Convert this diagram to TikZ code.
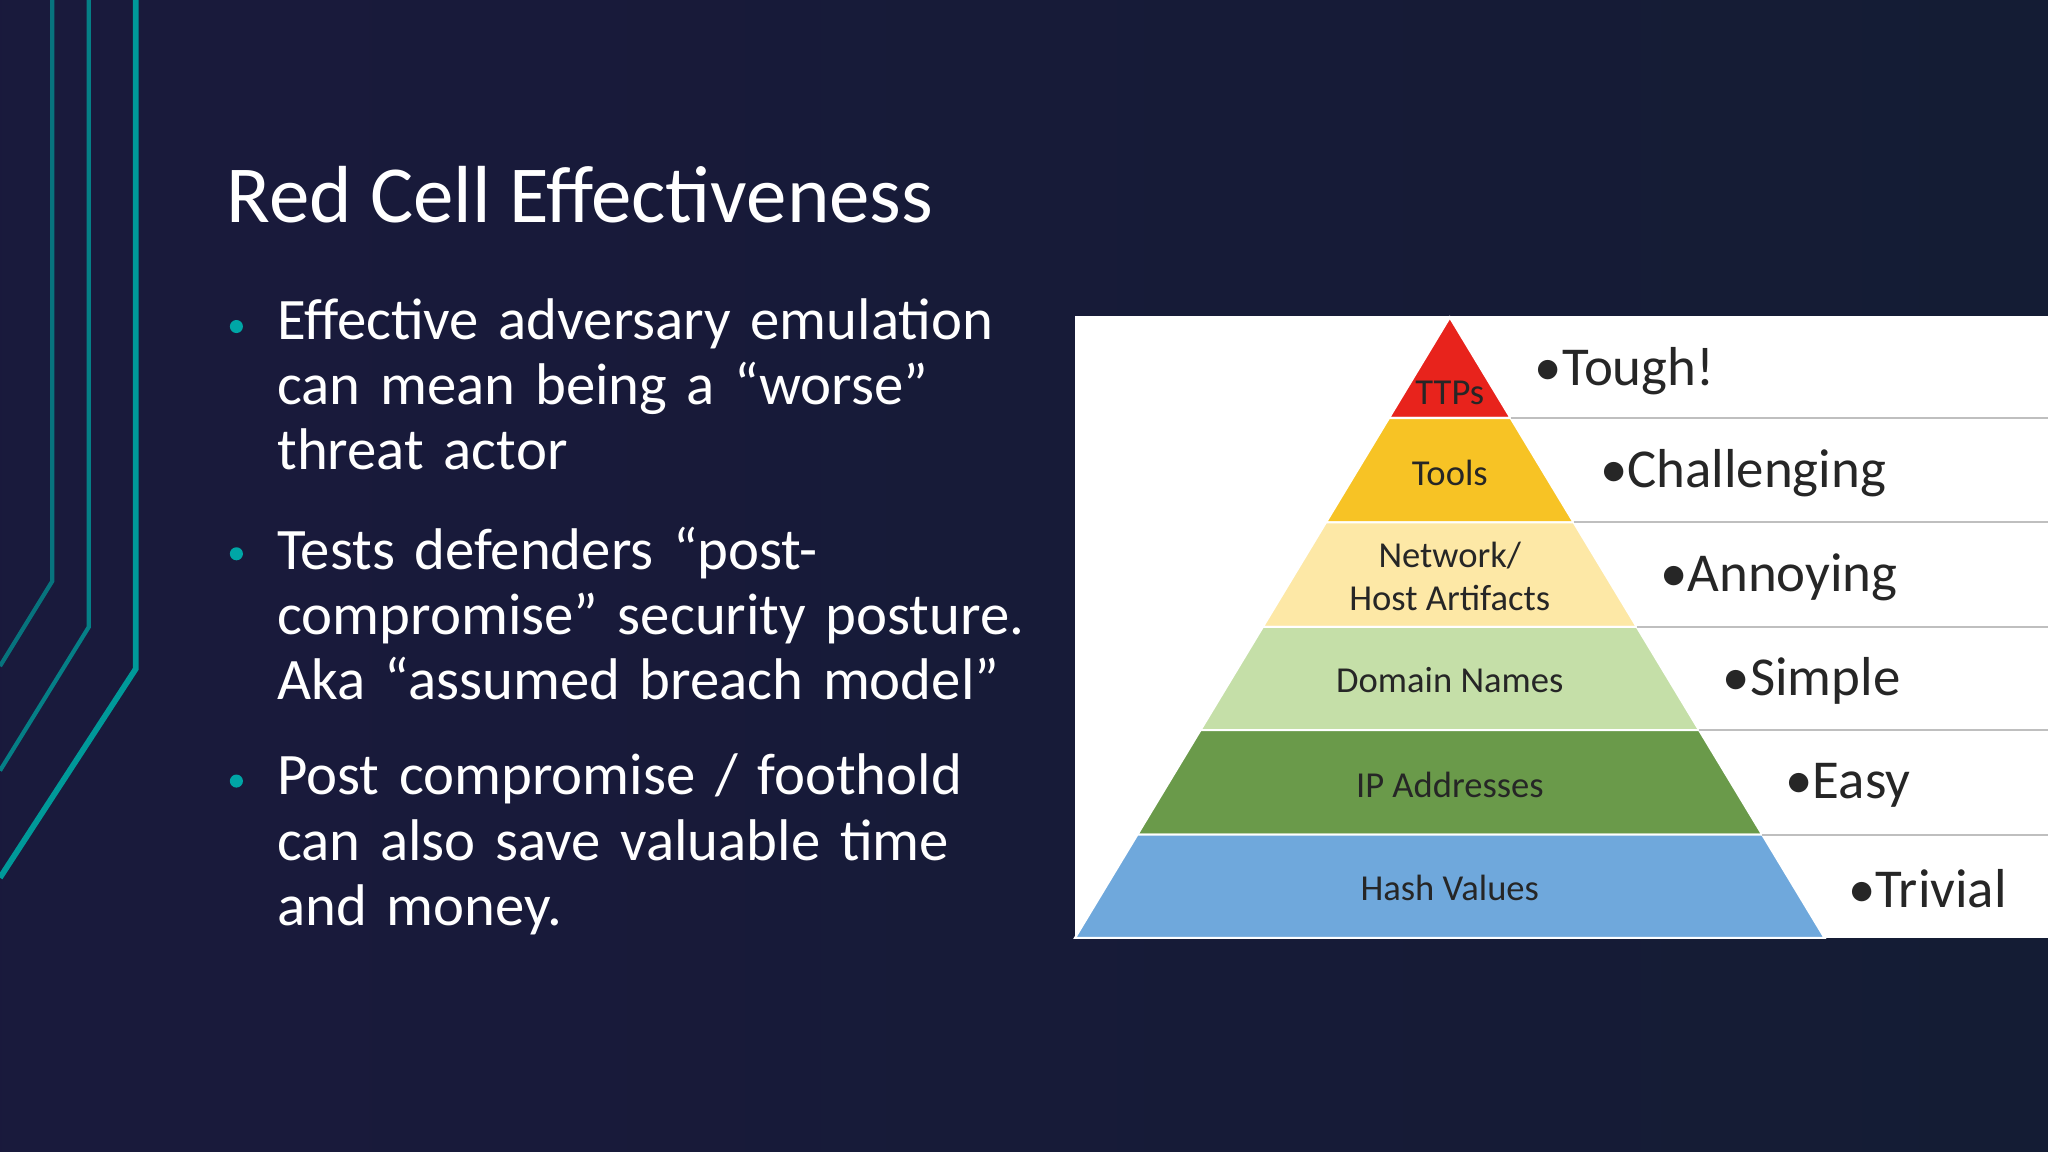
\documentclass[tikz,border=0pt]{standalone}
\usepackage{fontspec}
\setmainfont{Carlito}
\begin{document}
\begin{tikzpicture}[x=0.5pt,y=-0.5pt,
  deco/.style={draw=teal!80!cyan, line width=1.6pt},
  band/.style={draw=white, line width=0.8pt},
  sep/.style={draw=gray!50, line width=0.8pt},
  plab/.style={font=\fontsize{14}{16}\selectfont, text=black!85, align=center},
  rlab/.style={font=\fontsize{21}{24}\selectfont, text=black!85, anchor=west},
  btxt/.style={font=\fontsize{22.5}{25}\selectfont, text=white, anchor=north west, align=left, text width=300pt, inner sep=0pt},
  bdot/.style={fill=teal!70!cyan, draw=none}]
\useasboundingbox (0,0) rectangle (1568,882);
\shade[left color=black!85!blue!90, right color={rgb,255:red,20;green,28;blue,52}] (0,0) rectangle (1568,882);
% decorative lines
\draw[deco, draw opacity=0.7] (40,0) -- (40,445) -- (0,510);
\draw[deco, draw opacity=0.8] (68,0) -- (68,480) -- (0,590);
\draw[deco, line width=2.2pt] (104,0) -- (104,512) -- (0,672);
% title
\node[anchor=base west, text=white, font=\fontsize{31}{36}\selectfont, inner sep=0pt] (title) at (173,170) {Red Cell Effectiveness};
% bullets
\fill[bdot] (181,250) circle (5);
\node[btxt] (b1) at (212,228) {Effective adversary emulation\\can mean being a “worse”\\threat actor};
\fill[bdot] (181,424) circle (5);
\node[btxt] (b2) at (212,403) {Tests defenders “post-\\compromise” security posture.\\Aka “assumed breach model”};
\fill[bdot] (181,598) circle (5);
\node[btxt] (b3) at (212,577) {Post compromise / foothold\\can also save valuable time\\and money.};
% panel
\fill[white] (823,242) rectangle (1568,718);
\def\xr#1{1110+0.604*(#1-243)}
\def\xl#1{1110-0.604*(#1-243)}
\fill[band, fill={rgb,255:red,232;green,35;blue,28}] (1110,243) -- ({\xr{320}},320) -- ({\xl{320}},320) -- cycle;
\fill[band, fill={rgb,255:red,247;green,195;blue,37}] ({\xl{320}},320) -- ({\xr{320}},320) -- ({\xr{400}},400) -- ({\xl{400}},400) -- cycle;
\fill[band, fill={rgb,255:red,253;green,232;blue,166}] ({\xl{400}},400) -- ({\xr{400}},400) -- ({\xr{480}},480) -- ({\xl{480}},480) -- cycle;
\fill[band, fill={rgb,255:red,197;green,223;blue,168}] ({\xl{480}},480) -- ({\xr{480}},480) -- ({\xr{559}},559) -- ({\xl{559}},559) -- cycle;
\fill[band, fill={rgb,255:red,106;green,154;blue,74}] ({\xl{559}},559) -- ({\xr{559}},559) -- ({\xr{639}},639) -- ({\xl{639}},639) -- cycle;
\fill[band, fill={rgb,255:red,111;green,168;blue,220}] ({\xl{639}},639) -- ({\xr{639}},639) -- ({\xr{718}},718) -- ({\xl{718}},718) -- cycle;
\foreach \y in {320,400,480,559,639} \draw[sep] ({\xr{\y}},\y) -- (1568,\y);
% pyramid labels
\node[plab] (p1) at (1110,301) {TTPs};
\node[plab] (p2) at (1110,362) {Tools};
\node[plab, font=\fontsize{14}{16.5}\selectfont] (p3) at (1110,441) {Network/\\Host Artifacts};
\node[plab] (p4) at (1110,521) {Domain Names};
\node[plab] (p5) at (1110,601) {IP Addresses};
\node[plab] (p6) at (1110,680) {Hash Values};
% right labels
\node[rlab] (r1) at (1168,284) {•Tough!};
\node[rlab] (r2) at (1218,362) {•Challenging};
\node[rlab] (r3) at (1264,442) {•Annoying};
\node[rlab] (r4) at (1312,521) {•Simple};
\node[rlab] (r5) at (1360,601) {•Easy};
\node[rlab] (r6) at (1408,680) {•Trivial};
\end{tikzpicture}
\end{document}
